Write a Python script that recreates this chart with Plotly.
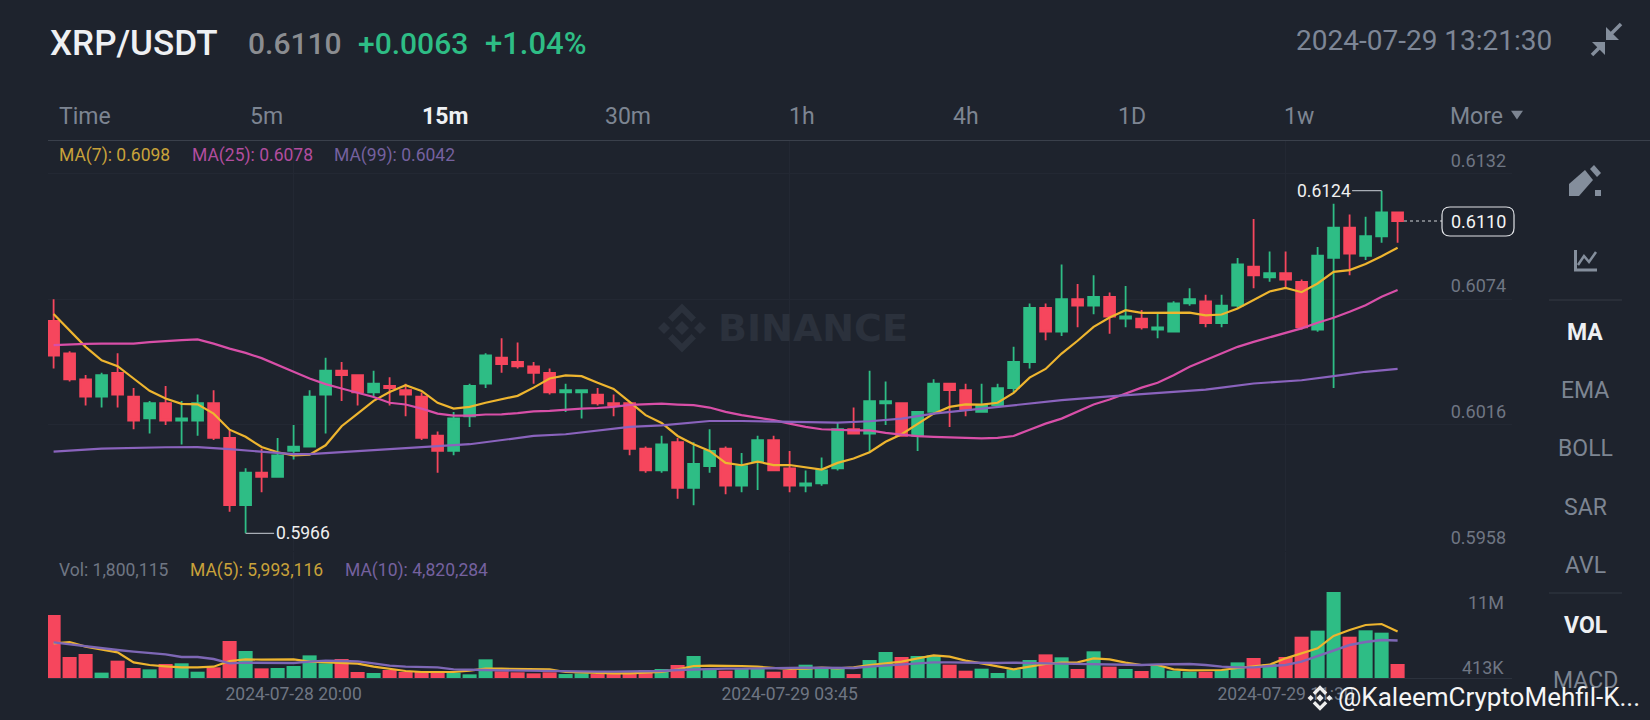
#!/usr/bin/env python3
import pandas as pd
import plotly.graph_objects as go
from plotly.subplots import make_subplots

W, H = 1650, 720
BG = "#1e232d"
GREEN = "#2ebd85"
RED = "#f6465d"
GRID = "#232833"
GREY = "#7d8592"
FONT = "Roboto"

start_time = "2024-07-28 16:15"

opens = [0.6064, 0.6049, 0.6037, 0.6029, 0.6040, 0.6029, 0.6019, 0.6026, 0.6018, 0.6018, 0.6026, 0.6010, 0.5979, 0.5994, 0.5992, 0.6004, 0.6006,
         0.6030, 0.6041, 0.6039, 0.6031, 0.6034, 0.6032, 0.6029, 0.6011, 0.6004, 0.6020, 0.6035, 0.6047, 0.6045, 0.6043, 0.6040, 0.6031, 0.6031,
         0.6030, 0.6026, 0.6026, 0.6005, 0.5995, 0.6008, 0.5987, 0.5997, 0.6005, 0.5988, 0.5999, 0.6009, 0.5996, 0.5988, 0.5989, 0.5996, 0.6014,
         0.6012, 0.6026, 0.6026, 0.6011, 0.6022, 0.6035, 0.6032, 0.6022, 0.6025, 0.6033, 0.6045, 0.6070, 0.6059, 0.6074, 0.6071, 0.6075, 0.6065,
         0.6065, 0.6060, 0.6059, 0.6072, 0.6073, 0.6063, 0.6071, 0.6089, 0.6084, 0.6086, 0.6082, 0.6060, 0.6093, 0.6107, 0.6094, 0.6103, 0.6114]
highs = [0.6074, 0.6050, 0.6039, 0.6040, 0.6049, 0.6033, 0.6027, 0.6034, 0.6027, 0.6030, 0.6032, 0.6014, 0.5996, 0.6005, 0.6010, 0.6016, 0.6032,
         0.6047, 0.6045, 0.6039, 0.6041, 0.6038, 0.6035, 0.6031, 0.6013, 0.6022, 0.6035, 0.6049, 0.6056, 0.6054, 0.6045, 0.6042, 0.6035, 0.6032,
         0.6033, 0.6030, 0.6026, 0.6006, 0.6011, 0.6010, 0.6008, 0.6014, 0.6006, 0.6003, 0.6011, 0.6011, 0.6004, 0.5995, 0.6001, 0.6017, 0.6024,
         0.6041, 0.6036, 0.6026, 0.6022, 0.6037, 0.6035, 0.6035, 0.6035, 0.6035, 0.6052, 0.6072, 0.6072, 0.6090, 0.6081, 0.6085, 0.6077, 0.6080,
         0.6069, 0.6068, 0.6073, 0.6079, 0.6076, 0.6076, 0.6093, 0.6111, 0.6096, 0.6096, 0.6083, 0.6098, 0.6118, 0.6113, 0.6112, 0.6124, 0.6114]
lows = [0.6042, 0.6036, 0.6025, 0.6024, 0.6024, 0.6014, 0.6012, 0.6016, 0.6007, 0.6011, 0.6009, 0.5976, 0.5966, 0.5985, 0.5992, 0.6000, 0.6006,
        0.6012, 0.6027, 0.6025, 0.6029, 0.6025, 0.6020, 0.6009, 0.5994, 0.6002, 0.6015, 0.6033, 0.6040, 0.6042, 0.6035, 0.6030, 0.6022, 0.6019,
        0.6025, 0.6020, 0.6002, 0.5994, 0.5994, 0.5982, 0.5979, 0.5994, 0.5984, 0.5985, 0.5986, 0.5995, 0.5985, 0.5985, 0.5988, 0.5995, 0.6012,
        0.6003, 0.6016, 0.6011, 0.6004, 0.6021, 0.6015, 0.6020, 0.6022, 0.6024, 0.6031, 0.6042, 0.6055, 0.6057, 0.6061, 0.6067, 0.6058, 0.6061,
        0.6060, 0.6056, 0.6059, 0.6071, 0.6061, 0.6061, 0.6070, 0.6079, 0.6082, 0.6079, 0.6060, 0.6059, 0.6033, 0.6085, 0.6092, 0.6100, 0.6100]
closes = [0.6048, 0.6037, 0.6029, 0.6039, 0.6030, 0.6018, 0.6026, 0.6018, 0.6019, 0.6026, 0.6010, 0.5979, 0.5994, 0.5992, 0.6002, 0.6006, 0.6029,
          0.6041, 0.6039, 0.6031, 0.6035, 0.6033, 0.6030, 0.6010, 0.6004, 0.6019, 0.6034, 0.6048, 0.6044, 0.6043, 0.6040, 0.6031, 0.6032, 0.6032,
          0.6026, 0.6025, 0.6005, 0.5995, 0.6007, 0.5987, 0.5998, 0.6004, 0.5988, 0.5997, 0.6009, 0.5995, 0.5988, 0.5989, 0.5995, 0.6014, 0.6012,
          0.6027, 0.6027, 0.6011, 0.6022, 0.6035, 0.6032, 0.6023, 0.6025, 0.6033, 0.6045, 0.6070, 0.6059, 0.6074, 0.6071, 0.6075, 0.6066, 0.6066,
          0.6061, 0.6061, 0.6072, 0.6074, 0.6063, 0.6071, 0.6090, 0.6085, 0.6086, 0.6083, 0.6061, 0.6094, 0.6107, 0.6095, 0.6103, 0.6114, 0.6110]

ma7 = [0.60671, 0.60597, 0.60520, 0.60458, 0.60431, 0.60374, 0.60317, 0.60282, 0.60257, 0.60255, 0.60212, 0.60138, 0.60105, 0.60058, 0.60034,
       0.60020, 0.60023, 0.60066, 0.60154, 0.60212, 0.60271, 0.60312, 0.60343, 0.60317, 0.60262, 0.60235, 0.60243, 0.60262, 0.60277, 0.60294,
       0.60332, 0.60374, 0.60388, 0.60385, 0.60354, 0.60326, 0.60266, 0.60205, 0.60169, 0.60109, 0.60071, 0.60040, 0.59985, 0.59974, 0.59991,
       0.59975, 0.59975, 0.59963, 0.59954, 0.59985, 0.60005, 0.60034, 0.60082, 0.60117, 0.60166, 0.60212, 0.60243, 0.60255, 0.60254, 0.60262,
       0.60308, 0.60378, 0.60418, 0.60489, 0.60548, 0.60612, 0.60655, 0.60689, 0.60677, 0.60677, 0.60675, 0.60678, 0.60665, 0.60669, 0.60697,
       0.60735, 0.60775, 0.60792, 0.60772, 0.60812, 0.60866, 0.60874, 0.60902, 0.60938, 0.60977]
ma25 = [0.60528, 0.60532, 0.60534, 0.60535, 0.60535, 0.60535, 0.60542, 0.60548, 0.60551, 0.60554, 0.60535, 0.60512, 0.60492, 0.60468, 0.60435,
        0.60405, 0.60374, 0.60348, 0.60328, 0.60308, 0.60289, 0.60262, 0.60254, 0.60235, 0.60212, 0.60203, 0.60203, 0.60208, 0.60209, 0.60214,
        0.60222, 0.60225, 0.60231, 0.60235, 0.60238, 0.60243, 0.60252, 0.60254, 0.60258, 0.60254, 0.60251, 0.60240, 0.60220, 0.60205, 0.60194,
        0.60182, 0.60166, 0.60151, 0.60140, 0.60137, 0.60135, 0.60135, 0.60123, 0.60115, 0.60108, 0.60105, 0.60103, 0.60102, 0.60098, 0.60100,
        0.60109, 0.60138, 0.60166, 0.60189, 0.60223, 0.60254, 0.60277, 0.60305, 0.60332, 0.60354, 0.60389, 0.60428, 0.60458, 0.60489, 0.60520,
        0.60543, 0.60563, 0.60585, 0.60605, 0.60631, 0.60654, 0.60682, 0.60712, 0.60751, 0.60782]
ma99_idx = [0, 3, 7, 9, 11, 13, 15, 16, 18, 21, 22, 24, 26, 28, 30, 32, 34, 36, 38, 40, 41, 43, 45, 47, 49, 51, 53, 55, 57, 59, 61, 63, 66, 69,
            72, 73, 75, 78, 79, 80, 82, 84]
ma99 = [0.60037, 0.60051, 0.60057, 0.60058, 0.60048, 0.60035, 0.60025, 0.60025, 0.60035, 0.60048, 0.60055, 0.60062, 0.60071, 0.60091, 0.60109,
        0.60117, 0.60135, 0.60151, 0.60158, 0.60172, 0.60178, 0.60178, 0.60175, 0.60174, 0.60171, 0.60177, 0.60189, 0.60212, 0.60228, 0.60243,
        0.60258, 0.60274, 0.60292, 0.60308, 0.60323, 0.60332, 0.60351, 0.60366, 0.60374, 0.60385, 0.60405, 0.60418]

volumes = [8100000, 2700000, 3090000, 690000, 2230000, 1290000, 1110000, 1800000, 1890000, 810000, 1370000, 4760000, 3470000, 1240000, 1290000,
           1540000, 2910000, 1890000, 2440000, 770000, 640000, 1030000, 770000, 900000, 690000, 690000, 470000, 2400000, 860000, 730000, 600000,
           730000, 510000, 600000, 510000, 600000, 690000, 1030000, 1160000, 1670000, 2830000, 1030000, 940000, 1200000, 1240000, 810000, 1030000,
           1710000, 1240000, 1240000, 510000, 2310000, 3340000, 2700000, 2830000, 2910000, 1710000, 940000, 1200000, 640000, 1110000, 2310000,
           3040000, 2660000, 1160000, 3430000, 1460000, 1160000, 900000, 1540000, 940000, 810000, 810000, 1030000, 2010000, 2570000, 1800000,
           2700000, 5310000, 6090000, 11060000, 5310000, 6130000, 5830000, 1800115]
vol_ma5 = [4457000, 4629000, 4029000, 3686000, 3300000, 2014000, 1672000, 1500000, 1372000, 1372000, 1457000, 2186000, 2400000, 2357000, 2400000,
           2400000, 2100000, 2014000, 2014000, 1843000, 1457000, 1157000, 900000, 771000, 771000, 771000, 943000, 1200000, 1200000, 1157000, 1114000,
           1114000, 771000, 686000, 600000, 600000, 600000, 686000, 771000, 1114000, 1543000, 1586000, 1586000, 1543000, 1457000, 1286000, 1157000,
           1200000, 1329000, 1243000, 1372000, 1672000, 1886000, 2100000, 2529000, 2914000, 2743000, 2229000, 1886000, 1457000, 1114000, 1457000,
           1800000, 1972000, 2014000, 2529000, 2400000, 1972000, 1672000, 1672000, 1114000, 986000, 986000, 1029000, 1286000, 1457000, 1714000,
           2529000, 3172000, 3815000, 5400000, 6172000, 6815000, 6943000, 5993116]
vol_ma10 = [4586000, 4329000, 4029000, 3772000, 3600000, 3386000, 3214000, 3043000, 2700000, 2700000, 2443000, 1886000, 1972000, 1972000, 1886000,
            1929000, 2100000, 2229000, 2186000, 2143000, 1886000, 1586000, 1457000, 1457000, 1372000, 1114000, 1029000, 1029000, 986000, 943000,
            900000, 900000, 857000, 814000, 814000, 814000, 814000, 857000, 900000, 1029000, 1114000, 1157000, 1200000, 1200000, 1200000, 1243000,
            1286000, 1329000, 1329000, 1243000, 1286000, 1457000, 1586000, 1672000, 1886000, 2014000, 2014000, 1972000, 1886000, 1929000, 1972000,
            1972000, 1886000, 1843000, 1800000, 1800000, 1800000, 1714000, 1672000, 1757000, 1800000, 1800000, 1672000, 1457000, 1372000, 1372000,
            1543000, 1672000, 2100000, 2829000, 3600000, 4243000, 4629000, 4886000, 4820284]

price_ticks = [0.5958, 0.6016, 0.6074, 0.6132]
time_ticks = ["2024-07-28 20:00", "2024-07-29 03:45", "2024-07-29 11:30"]
timeframes = ["Time", "5m", "15m", "30m", "1h", "4h", "1D", "1w", "More"]
timeframe_x = [85, 266, 445, 628, 802, 966, 1132, 1299, 1476]
indicators = ["MA", "EMA", "BOLL", "SAR", "AVL", "VOL", "MACD"]
indicator_y = [332, 390, 448, 507, 565, 625, 680]

times = pd.date_range(start_time, periods=len(closes), freq="15min")
step = pd.Timedelta(minutes=15)
x_range = [times[0] + step * -0.35, times[0] + step * 91.15]


def px(x, y):
    return x / W, 1 - y / H


def path(points, closed=True):
    parts = [f"{px(x, y)[0]:.5f},{px(x, y)[1]:.5f}" for x, y in points]
    return "M" + " L".join(parts) + (" Z" if closed else "")


def fill_shape(points, color, layer="above"):
    return dict(type="path", xref="paper", yref="paper", path=path(points), fillcolor=color, line_width=0, layer=layer)


def line_shape(points, color, width=1.0, dash="solid"):
    return dict(type="path", xref="paper", yref="paper", path=path(points, closed=False),
                line=dict(color=color, width=width, dash=dash))


def binance_logo(cx, cy, s, color, layer="above"):
    out = []
    for dx, dy, r in [(0, 0, 7), (-18, 0, 6), (18, 0, 6)]:
        out.append(fill_shape([(cx + (dx - r) * s, cy + dy * s), (cx + dx * s, cy + (dy - r) * s),
                               (cx + (dx + r) * s, cy + dy * s), (cx + dx * s, cy + (dy + r) * s)], color, layer))
    for d in (-1, 1):
        out.append(fill_shape([(cx, cy + d * 24.5 * s), (cx + 14 * s, cy + d * 10.5 * s), (cx + 9.5 * s, cy + d * 6 * s),
                               (cx, cy + d * 15.5 * s), (cx - 9.5 * s, cy + d * 6 * s), (cx - 14 * s, cy + d * 10.5 * s)], color, layer))
    return out


def rounded_box(x0, y0, x1, y1, r, line_color, fill):
    a, b = px(x0, y0), px(x1, y1)
    rx, ry = r / W, r / H
    d = (f"M{a[0] + rx:.5f},{a[1]:.5f} L{b[0] - rx:.5f},{a[1]:.5f} Q{b[0]:.5f},{a[1]:.5f} {b[0]:.5f},{a[1] - ry:.5f} "
         f"L{b[0]:.5f},{b[1] + ry:.5f} Q{b[0]:.5f},{b[1]:.5f} {b[0] - rx:.5f},{b[1]:.5f} "
         f"L{a[0] + rx:.5f},{b[1]:.5f} Q{a[0]:.5f},{b[1]:.5f} {a[0]:.5f},{b[1] + ry:.5f} "
         f"L{a[0]:.5f},{a[1] - ry:.5f} Q{a[0]:.5f},{a[1]:.5f} {a[0] + rx:.5f},{a[1]:.5f} Z")
    return dict(type="path", xref="paper", yref="paper", path=d, fillcolor=fill, line=dict(color=line_color, width=1.2))


fig = make_subplots(rows=2, cols=1, shared_xaxes=True)

fig.add_trace(go.Candlestick(
    x=times, open=opens, high=highs, low=lows, close=closes,
    increasing=dict(line=dict(color=GREEN, width=1.8), fillcolor=GREEN),
    decreasing=dict(line=dict(color=RED, width=1.8), fillcolor=RED),
    name="XRP/USDT",
), row=1, col=1)
fig.add_trace(go.Scatter(x=times, y=ma7, mode="lines", line=dict(color="#eeb52f", width=2.2), name="MA(7)"), row=1, col=1)
fig.add_trace(go.Scatter(x=times, y=ma25, mode="lines", line=dict(color="#d84fa8", width=2.2), name="MA(25)"), row=1, col=1)
fig.add_trace(go.Scatter(x=times[ma99_idx], y=ma99, mode="lines", line=dict(color="#8a63bd", width=2.2), name="MA(99)"), row=1, col=1)

bar_colors = [GREEN if c >= o else RED for o, c in zip(opens, closes)]
fig.add_trace(go.Bar(x=times, y=volumes, marker=dict(color=bar_colors, line_width=0), width=15 * 60000 * 0.88, name="Vol"), row=2, col=1)
fig.add_trace(go.Scatter(x=times, y=vol_ma5, mode="lines", line=dict(color="#eeb52f", width=2.2), name="MA(5)"), row=2, col=1)
fig.add_trace(go.Scatter(x=times, y=vol_ma10, mode="lines", line=dict(color="#7d67b5", width=2.4), name="MA(10)"), row=2, col=1)

annotations = []


def label(text, x, y, size, color, anchor="left", weight=None, family=FONT):
    annotations.append(dict(text=text, xref="paper", yref="paper", x=x / W, y=1 - y / H, xanchor=anchor, yanchor="middle",
                            showarrow=False, font=dict(family=family, size=size, color=color, weight=weight)))


# header
label("XRP/USDT", 48, 43, 35, "#eef0f3", weight=500)
label("0.6110", 246, 43, 30, "#8b8d91", weight=500)
label("+0.0063", 356, 43, 30, GREEN, weight=500)
label("+1.04%", 483, 43, 31, GREEN, weight=500)
label("2024-07-29 13:21:30", 1554, 40, 28, "#7d8696", anchor="right")

for name, x in zip(timeframes, timeframe_x):
    selected = name == "15m"
    label(name, x, 117, 23, "#eef0f3" if selected else GREY, anchor="center", weight=700 if selected else None)

# legends
label("MA(7): 0.6098", 57, 155, 17.5, "#c9a23a")
label("MA(25): 0.6078", 190, 155, 17.5, "#b24d9f")
label("MA(99): 0.6042", 332, 155, 17.5, "#75619f")
label("Vol: 1,800,115", 57, 570, 17.5, "#6f7683")
label("MA(5): 5,993,116", 188, 570, 17.5, "#c9a23a")
label("MA(10): 4,820,284", 343, 570, 17.5, "#75619f")

# volume axis labels
label("11M", 1506, 602, 18, "#6f7683", anchor="right")
label("413K", 1506, 667, 18, "#6f7683", anchor="right")

# sidebar
for name, y in zip(indicators, indicator_y):
    active = name in ("MA", "VOL")
    label(name, 1585, y, 23, "#eef0f3" if active else GREY, anchor="center", weight=700 if active else None)

# watermark
label("BINANCE", 716, 328, 38, "#2b313c", weight=700, family="DejaVu Sans")
label("@KaleemCryptoMehfil-K...", 1336, 697, 26, "#f5f5f5")

# current price tag
label("0.6110", 1478, 221, 18, "#f5f5f5", anchor="center")

# high / low callouts
annotations.append(dict(text="0.5966", x=times[12], y=0.5966, xref="x", yref="y", ax=57, ay=0, showarrow=True, arrowhead=0,
                        arrowcolor="#a8adb5", arrowwidth=1.2, font=dict(family=FONT, size=17.5, color="#f0f0f0")))
annotations.append(dict(text="0.6124", x=times[83], y=0.6124, xref="x", yref="y", ax=-58, ay=0, showarrow=True, arrowhead=0,
                        arrowcolor="#a8adb5", arrowwidth=1.2, font=dict(family=FONT, size=17.5, color="#f0f0f0")))

shapes = []
shapes.append(line_shape([(48, 140.5), (1650, 140.5)], "#3a404b", 1))
shapes.append(line_shape([(1549, 300), (1622, 300)], "#343a45", 1))
shapes.append(line_shape([(1549, 593), (1622, 593)], "#343a45", 1))
shapes.append(line_shape([(1404, 221), (1442, 221)], "#d0d3d8", 1.2, "3px,3px"))
shapes.append(rounded_box(1442, 207, 1514, 236, 8, "#e0e2e6", BG))
shapes += binance_logo(682, 328, 1, "#2b313c", layer="below")
shapes += binance_logo(1320, 698, 0.52, "#eeeeee")
# "More" triangle
shapes.append(fill_shape([(1511, 110.7), (1523, 110.7), (1517, 119.4)], GREY))
# compress icon
shapes.append(fill_shape([(1606, 27), (1606, 40), (1619, 40)], "#848e9c"))
shapes.append(line_shape([(1610, 35), (1621, 24)], "#848e9c", 3.5))
shapes.append(fill_shape([(1592, 42), (1605, 42), (1605, 55)], "#848e9c"))
shapes.append(line_shape([(1601, 46), (1592, 55)], "#848e9c", 3.5))
# pencil icon
shapes.append(fill_shape([(1569, 196), (1569, 184), (1585, 170), (1593, 180), (1579, 196)], "#848e9c"))
shapes.append(fill_shape([(1590, 169), (1594, 165), (1601, 173), (1597, 177)], "#848e9c"))
shapes.append(fill_shape([(1595, 190), (1601, 190), (1601, 196), (1595, 196)], "#848e9c"))
# indicator icon
shapes.append(line_shape([(1575.5, 250), (1575.5, 270), (1597, 270)], "#848e9c", 3))
shapes.append(line_shape([(1578, 265), (1584, 256), (1589, 262), (1596, 252)], "#848e9c", 2.5))

fig.update_layout(
    width=W, height=H, margin=dict(l=0, r=0, t=0, b=0),
    paper_bgcolor=BG, plot_bgcolor=BG, showlegend=False, boxgap=0.03,
    font=dict(family=FONT, color=GREY),
    annotations=annotations, shapes=shapes,
)
fig.update_xaxes(
    range=x_range, domain=[48 / W, 1512 / W], rangeslider_visible=False,
    tickvals=time_ticks, ticktext=time_ticks, ticks="", showgrid=True, gridcolor=GRID, gridwidth=1, zeroline=False,
)
fig.update_xaxes(showticklabels=False, row=1, col=1)
fig.update_xaxes(showticklabels=True, tickfont=dict(family=FONT, size=17.5, color="#6f7683"),
                 showline=True, linecolor="#2c323d", linewidth=1, row=2, col=1)
fig.update_yaxes(
    domain=[1 - 550.7 / H, 1 - 141 / H], range=[0.5958, 0.6074 + 158 / 21670],
    side="right", tickvals=price_ticks, tickformat=".4f", ticklabelposition="inside", ticklabelshift=-13, ticklabelstandoff=3,
    tickfont=dict(family=FONT, size=18, color="#6f7683"), showgrid=True, gridcolor=GRID, gridwidth=1, zeroline=False,
    row=1, col=1,
)
fig.update_yaxes(
    domain=[1 - 678 / H, 1 - 552 / H], range=[0, 16200000],
    showticklabels=False, showgrid=False, zeroline=False, row=2, col=1,
)

fig.write_html("out.html", config=dict(displayModeBar=False),
               post_script="document.body.style.margin='0';document.body.style.overflow='hidden';")
